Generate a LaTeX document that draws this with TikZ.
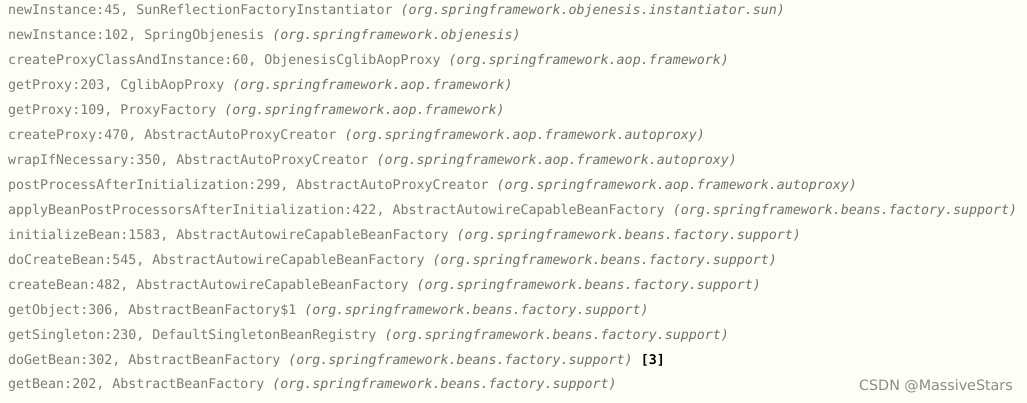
\documentclass[tikz,border=0pt]{standalone}
\usepackage{fontspec}
\setmonofont{DejaVu Sans Mono}
\newfontfamily\wmfont{DejaVu Sans}
\definecolor{bg}{HTML}{FFFEF4}
\definecolor{txt}{HTML}{7A7A7A}
\definecolor{pkg}{HTML}{6F6F6F}
\begin{document}
\begin{tikzpicture}[x=1pt,y=1pt,
  line/.style={anchor=base west,inner sep=0pt,text=txt,font=\fontsize{13.3}{14}\ttfamily}]
\fill[bg] (0,0) rectangle (1027,402);
\useasboundingbox (0,0) rectangle (1027,402);
\newcommand\pk[1]{\textcolor{pkg}{\itshape(#1)}}
\foreach \t [count=\i] in {
 {newInstance:45, SunReflectionFactoryInstantiator \pk{org.springframework.objenesis.instantiator.sun}},
 {newInstance:102, SpringObjenesis \pk{org.springframework.objenesis}},
 {createProxyClassAndInstance:60, ObjenesisCglibAopProxy \pk{org.springframework.aop.framework}},
 {getProxy:203, CglibAopProxy \pk{org.springframework.aop.framework}},
 {getProxy:109, ProxyFactory \pk{org.springframework.aop.framework}},
 {createProxy:470, AbstractAutoProxyCreator \pk{org.springframework.aop.framework.autoproxy}},
 {wrapIfNecessary:350, AbstractAutoProxyCreator \pk{org.springframework.aop.framework.autoproxy}},
 {postProcessAfterInitialization:299, AbstractAutoProxyCreator \pk{org.springframework.aop.framework.autoproxy}},
 {applyBeanPostProcessorsAfterInitialization:422, AbstractAutowireCapableBeanFactory \pk{org.springframework.beans.factory.support}},
 {initializeBean:1583, AbstractAutowireCapableBeanFactory \pk{org.springframework.beans.factory.support}},
 {doCreateBean:545, AbstractAutowireCapableBeanFactory \pk{org.springframework.beans.factory.support}},
 {createBean:482, AbstractAutowireCapableBeanFactory \pk{org.springframework.beans.factory.support}},
 {getObject:306, AbstractBeanFactory\$1 \pk{org.springframework.beans.factory.support}},
 {getSingleton:230, DefaultSingletonBeanRegistry \pk{org.springframework.beans.factory.support}},
 {doGetBean:302, AbstractBeanFactory \pk{org.springframework.beans.factory.support} \textcolor{black}{\bfseries[3]}},
 {getBean:202, AbstractBeanFactory \pk{org.springframework.beans.factory.support}}}
 \node[line] (l\i) at (8,{402-15-(\i-1)*24.93}) {\t};
\node[anchor=base east,inner sep=0pt,text=black!45,font=\fontsize{14.3}{15}\wmfont] (wm) at (1013,12) {CSDN @MassiveStars};
\end{tikzpicture}
\end{document}
